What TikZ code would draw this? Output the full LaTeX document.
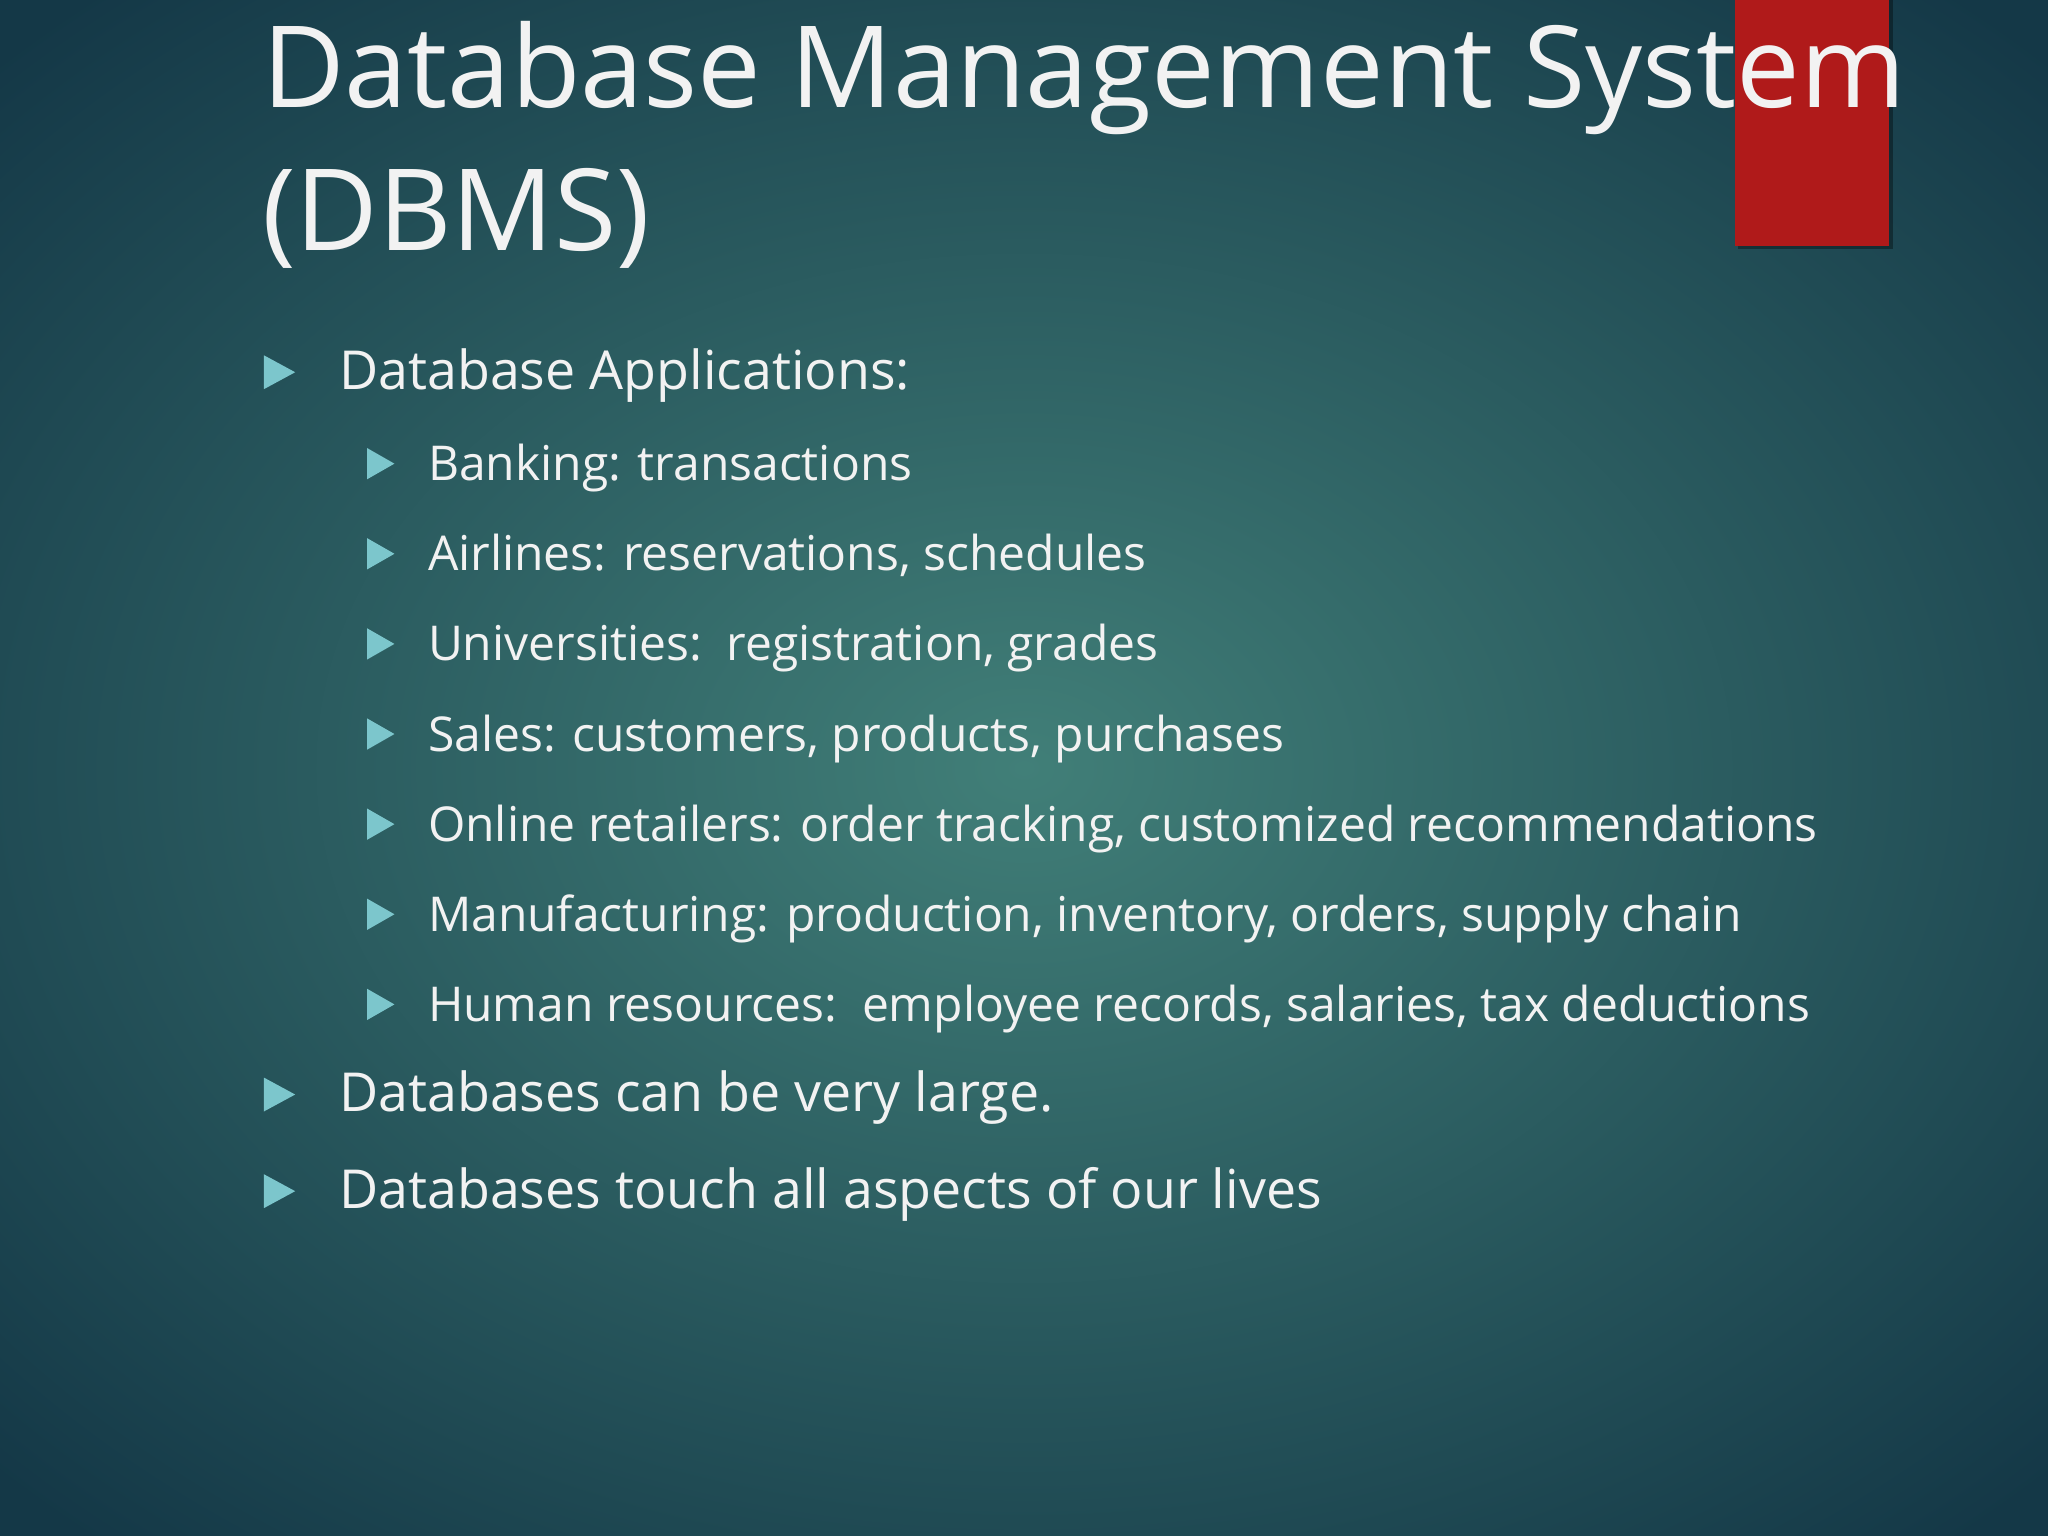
\documentclass[tikz,border=0pt]{standalone}
\usepackage{fontspec}
\setmainfont{Open Sans}
\usetikzlibrary{shadows}
\definecolor{bgin}{HTML}{417F78}
\definecolor{bgout}{HTML}{143847}
\definecolor{redbox}{HTML}{B01A1A}
\definecolor{bul}{HTML}{7CC6CC}
\definecolor{txt}{HTML}{F2F2F2}
\tikzset{
 lone/.style={anchor=base west,inner sep=0pt,text=txt,font=\fontsize{11.7}{14}\selectfont},
 ltwo/.style={anchor=base west,inner sep=0pt,text=txt,font=\fontsize{10.45}{13}\selectfont},
 ttl/.style={anchor=base west,inner sep=0pt,text=txt,font=\fontsize{24.7}{30}\selectfont},
 tri/.style={fill=bul}
}
\begin{document}
\begin{tikzpicture}[x=0.01cm,y=-0.01cm]
\useasboundingbox (0,0) rectangle (1568,1176);
\shade[inner color=bgin,outer color=bgout] (-300,-200) rectangle (1868,1376);
\clip (0,0) rectangle (1568,1176);
\fill[black,opacity=0.35] (1331,-5) rectangle (1449,191);
\fill[redbox] (1328,-5) rectangle (1446,188);
\node[ttl] (t1) at (200,82) {Database Management System};
\node[ttl] (t2) at (200,192) {(DBMS)};
\def\bone#1{\fill[tri] (202,#1-13) -- (226,#1) -- (202,#1+13) -- cycle;}
\def\btwo#1{\fill[tri] (281,#1-12) -- (302,#1) -- (281,#1+12) -- cycle;}
\bone{285}\node[lone] (a) at (259,298) {Database Applications:};
\btwo{355}\node[ltwo] (b1) at (327,368) {Banking: transactions};
\btwo{424}\node[ltwo] (b2) at (327,437) {Airlines: reservations, schedules};
\btwo{493}\node[ltwo] (b3) at (327,506) {Universities:\ \ registration, grades};
\btwo{562}\node[ltwo] (b4) at (327,575) {Sales: customers, products, purchases};
\btwo{631}\node[ltwo] (b5) at (327,644) {Online retailers: order tracking, customized recommendations};
\btwo{700}\node[ltwo] (b6) at (327,713) {Manufacturing: production, inventory, orders, supply chain};
\btwo{769}\node[ltwo] (b7) at (327,782) {Human resources:\ \ employee records, salaries, tax deductions};
\bone{838}\node[lone] (c) at (259,851) {Databases can be very large.};
\bone{912}\node[lone] (d) at (259,925) {Databases touch all aspects of our lives};
\end{tikzpicture}
\end{document}
